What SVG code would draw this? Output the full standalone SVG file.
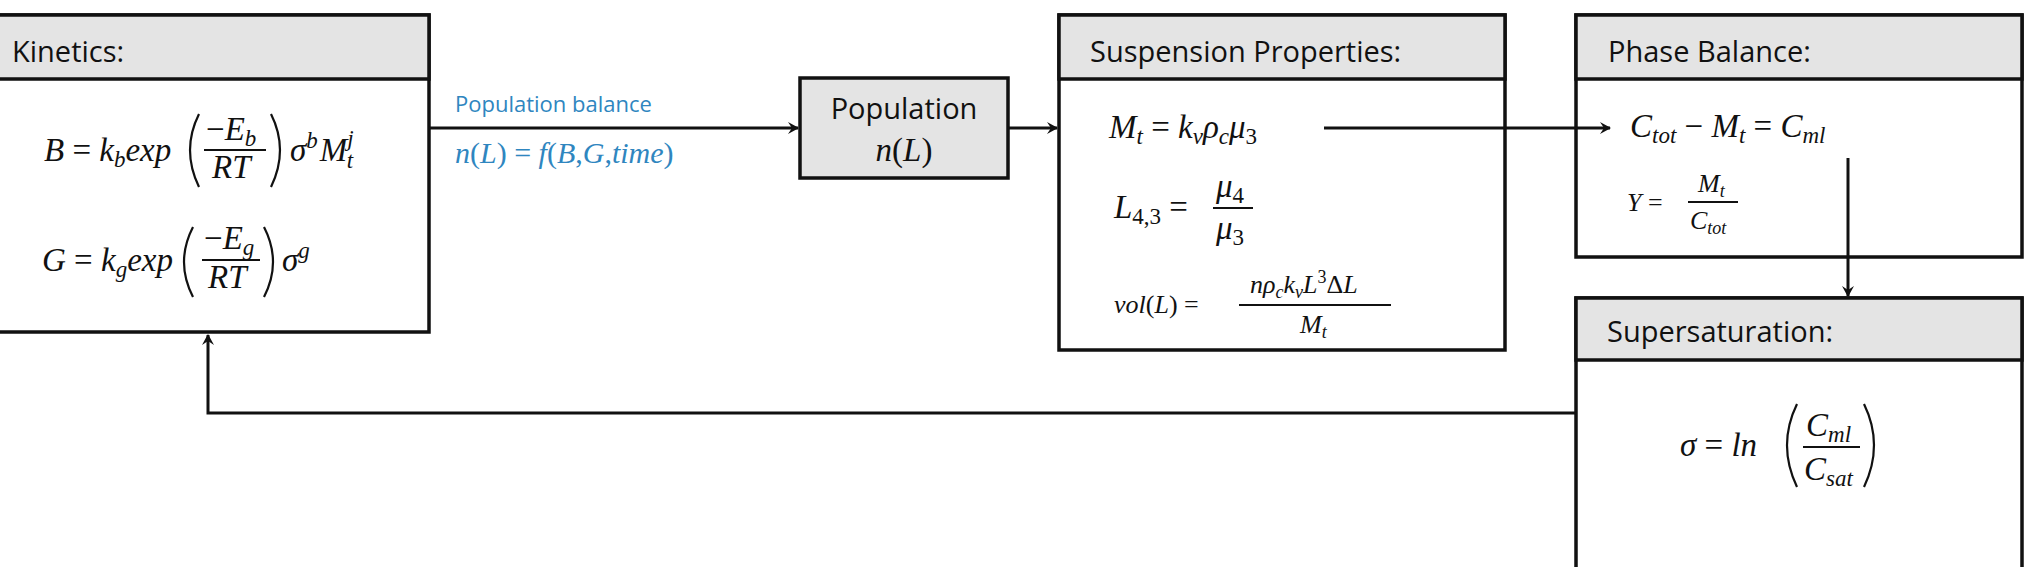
<svg xmlns="http://www.w3.org/2000/svg" width="2039" height="567" viewBox="0 0 2039 567">
<style>
.box{fill:#fff;stroke:#111;stroke-width:3.5}
.hdr{fill:#e4e4e4;stroke:#111;stroke-width:3.5}
.ht{font-family:"Open Sans","Noto Sans",sans-serif;font-size:29px;fill:#111}
.m{font-family:"Liberation Serif",serif;font-style:italic;font-size:33px;fill:#111}
.ms{font-family:"Liberation Serif",serif;font-style:italic;font-size:26px;fill:#111}
.u{font-style:normal}
.s{font-size:23px}
.ss{font-size:18px}
.bl{fill:#2f86bf}
.line{stroke:#111;stroke-width:3;fill:none}
.bar{stroke:#111;stroke-width:2}
.par{stroke:#111;stroke-width:2.2;fill:none}
</style>
<defs>
<marker id="ah" markerWidth="12" markerHeight="12" refX="10" refY="6" orient="auto" markerUnits="userSpaceOnUse">
<path d="M0,0 L11,6 L0,12 L4,6 z" fill="#111"/>
</marker>
</defs>
<g id="kinetics">
<rect class="box" x="-5" y="15" width="434" height="317"/>
<rect class="hdr" x="-5" y="15" width="434" height="64"/>
<text class="ht" x="12" y="62">Kinetics:</text>
<text class="m" x="44" y="161">B <tspan class="u">= </tspan>k<tspan class="s" dy="6">b</tspan><tspan dy="-6">exp</tspan></text>
<path class="par" d="M199,114 Q181,150 199,187"/>
<text class="m" x="206" y="140"><tspan class="u">−</tspan>E<tspan class="s" dy="6">b</tspan></text>
<line class="bar" x1="204" y1="150" x2="266" y2="150"/>
<text class="m" x="212" y="178">RT</text>
<path class="par" d="M271,114 Q289,150 271,187"/>
<text class="m" x="290" y="161">σ<tspan class="s" dy="-13">b</tspan><tspan dy="13" dx="2">M</tspan><tspan class="s" dy="-15">j</tspan><tspan class="s" dx="-7" dy="22">t</tspan></text>
<text class="m" x="42" y="271">G <tspan class="u">= </tspan>k<tspan class="s" dy="6">g</tspan><tspan dy="-6">exp</tspan></text>
<path class="par" d="M193,227 Q175,262 193,297"/>
<text class="m" x="204" y="249"><tspan class="u">−</tspan>E<tspan class="s" dy="6">g</tspan></text>
<line class="bar" x1="202" y1="260" x2="260" y2="260"/>
<text class="m" x="208" y="288">RT</text>
<path class="par" d="M264,227 Q282,262 264,297"/>
<text class="m" x="282" y="271">σ<tspan class="s" dy="-13">g</tspan></text>
</g>
<g id="population">
<rect class="hdr" x="800" y="78" width="208" height="100"/>
<text class="ht" x="904" y="119" text-anchor="middle">Population</text>
<text class="m" x="904" y="161" text-anchor="middle">n<tspan class="u">(</tspan>L<tspan class="u">)</tspan></text>
</g>
<g id="suspension">
<rect class="box" x="1059" y="15" width="446" height="335"/>
<rect class="hdr" x="1059" y="15" width="446" height="64"/>
<text class="ht" x="1090" y="62">Suspension Properties:</text>
<text class="m" x="1109" y="138">M<tspan class="s" dy="6">t</tspan><tspan class="u" dy="-6"> = </tspan>k<tspan class="s" dy="6">v</tspan><tspan dy="-6">ρ</tspan><tspan class="s" dy="6">c</tspan><tspan dy="-6">μ</tspan><tspan class="s u" dy="6">3</tspan></text>
<text class="m" x="1114" y="218">L<tspan class="s u" dy="6">4,3</tspan><tspan class="u" dy="-6"> =</tspan></text>
<text class="m" x="1216" y="197">μ<tspan class="s u" dy="6">4</tspan></text>
<line class="bar" x1="1213" y1="208" x2="1253" y2="208"/>
<text class="m" x="1216" y="239">μ<tspan class="s u" dy="6">3</tspan></text>
<text class="ms" x="1114" y="313">vol<tspan class="u">(</tspan>L<tspan class="u">) =</tspan></text>
<text class="ms" x="1250" y="293">n<tspan>ρ</tspan><tspan class="ss" dy="5">c</tspan><tspan dy="-5">k</tspan><tspan class="ss" dy="5">v</tspan><tspan dy="-5">L</tspan><tspan class="ss u" dy="-10">3</tspan><tspan class="u" dy="10">Δ</tspan>L</text>
<line class="bar" x1="1239" y1="305" x2="1391" y2="305"/>
<text class="ms" x="1300" y="333">M<tspan class="ss" dy="5">t</tspan></text>
</g>
<g id="phase">
<rect class="box" x="1576" y="15" width="446" height="242"/>
<rect class="hdr" x="1576" y="15" width="446" height="64"/>
<text class="ht" x="1608" y="62">Phase Balance:</text>
<text class="m" x="1630" y="137">C<tspan class="s" dy="6">tot</tspan><tspan class="u" dy="-6"> − </tspan>M<tspan class="s" dy="6">t</tspan><tspan class="u" dy="-6"> = </tspan>C<tspan class="s" dy="6">ml</tspan></text>
<text class="ms" x="1627" y="211">Y<tspan class="u"> =</tspan></text>
<text class="ms" x="1698" y="192">M<tspan class="ss" dy="5">t</tspan></text>
<line class="bar" x1="1688" y1="202" x2="1738" y2="202"/>
<text class="ms" x="1690" y="229">C<tspan class="ss" dy="5">tot</tspan></text>
</g>
<g id="supersaturation">
<rect class="box" x="1576" y="298" width="446" height="285"/>
<rect class="hdr" x="1576" y="298" width="446" height="62"/>
<text class="ht" x="1607" y="342">Supersaturation:</text>
<text class="m" x="1680" y="456">σ<tspan class="u"> = </tspan>ln</text>
<path class="par" d="M1797,404 Q1777,445 1797,487"/>
<text class="m" x="1806" y="436">C<tspan class="s" dy="6">ml</tspan></text>
<line class="bar" x1="1803" y1="447" x2="1860" y2="447"/>
<text class="m" x="1804" y="480">C<tspan class="s" dy="6">sat</tspan></text>
<path class="par" d="M1864,404 Q1884,445 1864,487"/>
</g>
<g id="connectors">
<line class="line" x1="429" y1="128" x2="798" y2="128" marker-end="url(#ah)"/>
<line class="line" x1="1008" y1="128" x2="1057" y2="128" marker-end="url(#ah)"/>
<line class="line" x1="1324" y1="128" x2="1610" y2="128" marker-end="url(#ah)"/>
<line class="line" x1="1848" y1="158" x2="1848" y2="296" marker-end="url(#ah)"/>
<polyline class="line" points="1576,413 208,413 208,335" marker-end="url(#ah)"/>
<text class="ht bl" x="455" y="112" style="font-size:22px">Population balance</text>
<text class="m bl" x="455" y="163" style="font-size:30px">n<tspan class="u">(</tspan>L<tspan class="u">) = </tspan>f<tspan class="u">(</tspan>B<tspan class="u">,</tspan>G<tspan class="u">,</tspan>time<tspan class="u">)</tspan></text>
</g>
</svg>
